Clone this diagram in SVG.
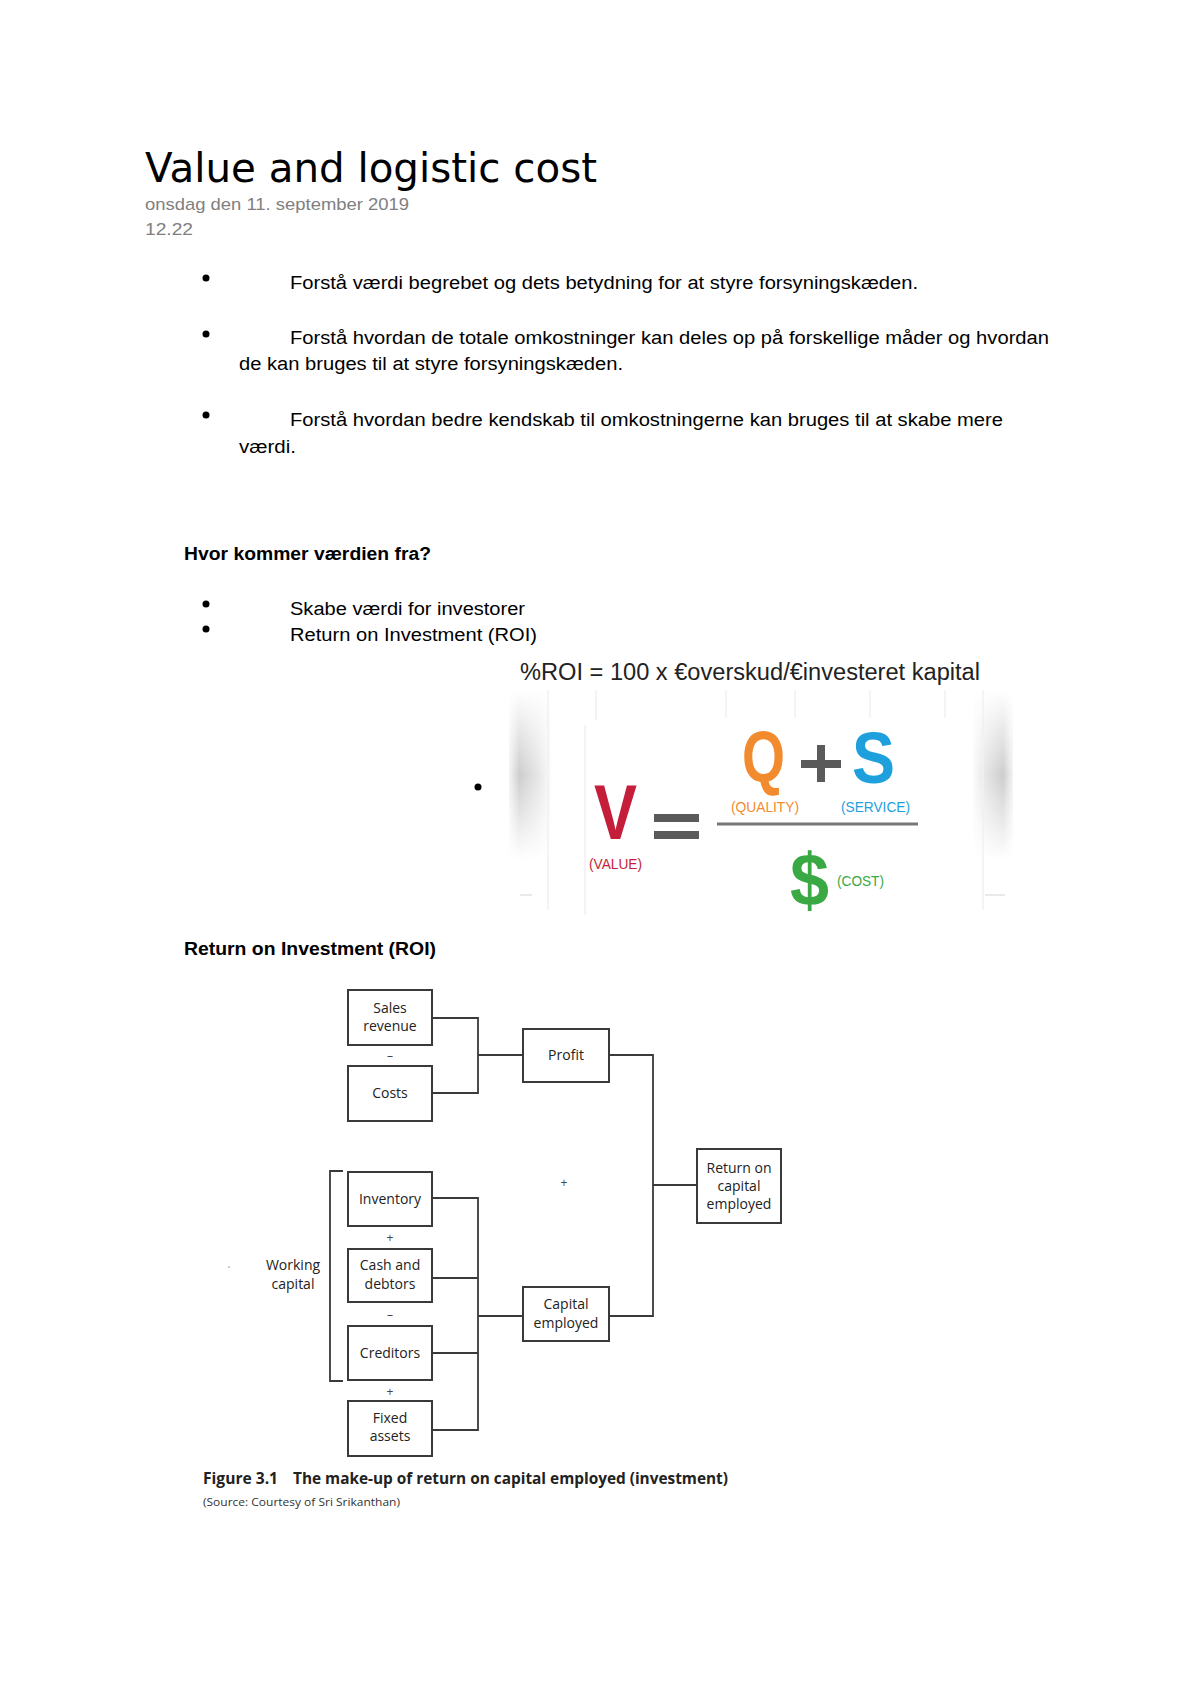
<svg xmlns="http://www.w3.org/2000/svg" width="1200" height="1698" viewBox="0 0 1200 1698">
<defs>
<style>
.title{font-family:"DejaVu Sans",sans-serif;font-size:40px;fill:#000}
.meta{font-family:"Liberation Sans",sans-serif;font-size:17px;fill:#808080}
.body{font-family:"Liberation Sans",sans-serif;font-size:18px;fill:#000}
.bold{font-family:"Liberation Sans",sans-serif;font-size:18px;font-weight:bold;fill:#000}
.roi{font-family:"Liberation Sans",sans-serif;font-size:23px;fill:#222}
.big{font-family:"Liberation Sans",sans-serif;font-weight:bold}
.lab{font-family:"Liberation Sans",sans-serif;font-size:14px}
.box{fill:#fff;stroke:#3a3a3a;stroke-width:2}
.bt{font-family:"Open Sans",sans-serif;font-size:14px;fill:#222;text-anchor:middle}
.op{font-family:"Open Sans",sans-serif;font-size:12px;fill:#444;text-anchor:middle}
.conn{fill:none;stroke:#3a3a3a;stroke-width:1.8}
.cap{font-family:"Open Sans",sans-serif;font-weight:bold;font-size:16px;fill:#222}
.src{font-family:"Open Sans",sans-serif;font-size:11px;fill:#333}
</style>
<linearGradient id="vfade" x1="0" y1="0" x2="0" y2="1">
<stop offset="0" stop-color="#fff" stop-opacity="0"/>
<stop offset="0.5" stop-color="#fff" stop-opacity="1"/>
<stop offset="1" stop-color="#fff" stop-opacity="0"/>
</linearGradient>
<linearGradient id="hL" x1="0" y1="0" x2="1" y2="0">
<stop offset="0" stop-color="#f4f4f4"/>
<stop offset="0.25" stop-color="#cdcdcd"/>
<stop offset="0.7" stop-color="#e6e6e6"/>
<stop offset="1" stop-color="#fbfbfb"/>
</linearGradient>
<linearGradient id="hR" x1="1" y1="0" x2="0" y2="0">
<stop offset="0" stop-color="#f4f4f4"/>
<stop offset="0.25" stop-color="#cdcdcd"/>
<stop offset="0.7" stop-color="#e6e6e6"/>
<stop offset="1" stop-color="#fbfbfb"/>
</linearGradient>
<mask id="vm" maskUnits="userSpaceOnUse" x="500" y="680" width="520" height="190">
<rect x="500" y="690" width="520" height="170" fill="url(#vfade)"/>
</mask>
</defs>
<rect width="1200" height="1698" fill="#fff"/>

<g id="header">
<text class="title" x="145" y="182" textLength="452" lengthAdjust="spacingAndGlyphs">Value and logistic cost</text>
<text class="meta" x="145" y="210" textLength="264" lengthAdjust="spacingAndGlyphs">onsdag den 11. september 2019</text>
<text class="meta" x="145" y="235" textLength="48" lengthAdjust="spacingAndGlyphs">12.22</text>
</g>

<g id="bullets1">
<circle cx="206" cy="278" r="3.5"/>
<text class="body" x="290" y="289" textLength="628" lengthAdjust="spacingAndGlyphs">Forstå værdi begrebet og dets betydning for at styre forsyningskæden.</text>
<circle cx="206" cy="334" r="3.5"/>
<text class="body" x="290" y="344" textLength="759" lengthAdjust="spacingAndGlyphs">Forstå hvordan de totale omkostninger kan deles op på forskellige måder og hvordan</text>
<text class="body" x="239" y="370" textLength="384" lengthAdjust="spacingAndGlyphs">de kan bruges til at styre forsyningskæden.</text>
<circle cx="206" cy="415" r="3.5"/>
<text class="body" x="290" y="426" textLength="713" lengthAdjust="spacingAndGlyphs">Forstå hvordan bedre kendskab til omkostningerne kan bruges til at skabe mere</text>
<text class="body" x="239" y="453" textLength="57" lengthAdjust="spacingAndGlyphs">værdi.</text>
</g>

<g id="section2">
<text class="bold" x="184" y="560" textLength="247" lengthAdjust="spacingAndGlyphs">Hvor kommer værdien fra?</text>
<circle cx="206" cy="604" r="3.5"/>
<text class="body" x="290" y="615" textLength="235" lengthAdjust="spacingAndGlyphs">Skabe værdi for investorer</text>
<circle cx="206" cy="629" r="3.5"/>
<text class="body" x="290" y="641" textLength="247" lengthAdjust="spacingAndGlyphs">Return on Investment (ROI)</text>
<circle cx="478" cy="787" r="3.5"/>
</g>

<g id="formula-image">
<g mask="url(#vm)">
<rect x="509" y="690" width="42" height="170" fill="url(#hL)"/>
<rect x="973" y="690" width="40" height="170" fill="url(#hR)"/>
</g>
<g stroke="#f1f1f1" stroke-width="1.5">
<line x1="548" y1="690" x2="548" y2="910"/>
<line x1="596" y1="690" x2="596" y2="720"/>
<line x1="726" y1="690" x2="726" y2="718"/>
<line x1="795" y1="690" x2="795" y2="718"/>
<line x1="870" y1="690" x2="870" y2="718"/>
<line x1="945" y1="690" x2="945" y2="718"/>
<line x1="983" y1="690" x2="983" y2="910"/>
<line x1="585" y1="725" x2="585" y2="915"/>
<line x1="520" y1="895" x2="532" y2="895" stroke="#e2e2e2"/>
<line x1="985" y1="895" x2="1005" y2="895" stroke="#e2e2e2"/>
</g>
<text class="roi" x="520" y="680" textLength="460" lengthAdjust="spacingAndGlyphs">%ROI = 100 x €overskud/€investeret kapital</text>
<text class="big" x="594" y="839" font-size="78" fill="#c41e3a" textLength="43" lengthAdjust="spacingAndGlyphs">V</text>
<text class="lab" x="589" y="869" fill="#c41e3a" textLength="53" lengthAdjust="spacingAndGlyphs">(VALUE)</text>
<rect x="654" y="814" width="45" height="8" fill="#5a5a5a"/>
<rect x="654" y="831" width="45" height="8" fill="#5a5a5a"/>
<text class="big" x="742" y="782" font-size="72" fill="#f28a2e" textLength="43" lengthAdjust="spacingAndGlyphs">Q</text>
<rect x="801" y="760" width="40" height="8" fill="#5a5a5a"/>
<rect x="817" y="745" width="8" height="37" fill="#5a5a5a"/>
<text class="big" x="852" y="783" font-size="72" fill="#1ea0dc" textLength="43" lengthAdjust="spacingAndGlyphs">S</text>
<text class="lab" x="731" y="812" fill="#f28a2e" textLength="68" lengthAdjust="spacingAndGlyphs">(QUALITY)</text>
<text class="lab" x="841" y="812" fill="#1ea0dc" textLength="69" lengthAdjust="spacingAndGlyphs">(SERVICE)</text>
<line x1="717" y1="824" x2="918" y2="824" stroke="#777" stroke-width="3"/>
<text class="big" x="790" y="905" font-size="74" fill="#3aa843" textLength="39" lengthAdjust="spacingAndGlyphs">$</text>
<text class="lab" x="837" y="886" fill="#3aa843" textLength="47" lengthAdjust="spacingAndGlyphs">(COST)</text>
</g>

<text class="bold" x="184" y="955" textLength="252" lengthAdjust="spacingAndGlyphs">Return on Investment (ROI)</text>

<g id="connectors">
<path class="conn" d="M432,1018 H478 V1093 H432 M478,1055 H523"/>
<path class="conn" d="M609,1055 H653 V1316 H609 M653,1185 H697"/>
<path class="conn" d="M432,1198 H478 V1430 H432 M432,1278 H478 M432,1353 H478 M478,1316 H523"/>
<path class="conn" d="M343,1171 H330 V1381 H343"/>
</g>

<g id="sales-revenue"><rect class="box" x="348" y="990" width="84" height="55"/><text class="bt" x="390" y="1013">Sales</text><text class="bt" x="390" y="1031">revenue</text></g>
<text class="op" x="390" y="1060">–</text>
<g id="costs"><rect class="box" x="348" y="1066" width="84" height="55"/><text class="bt" x="390" y="1098">Costs</text></g>
<g id="profit"><rect class="box" x="523" y="1029" width="86" height="53"/><text class="bt" x="566" y="1060">Profit</text></g>
<g id="return"><rect class="box" x="697" y="1149" width="84" height="74"/><text class="bt" x="739" y="1173">Return on</text><text class="bt" x="739" y="1191">capital</text><text class="bt" x="739" y="1209">employed</text></g>
<text class="op" x="564" y="1187">+</text>
<g id="inventory"><rect class="box" x="348" y="1172" width="84" height="54"/><text class="bt" x="390" y="1204">Inventory</text></g>
<text class="op" x="390" y="1242">+</text>
<g id="cash"><rect class="box" x="348" y="1249" width="84" height="53"/><text class="bt" x="390" y="1270">Cash and</text><text class="bt" x="390" y="1289">debtors</text></g>
<text class="op" x="390" y="1319">–</text>
<g id="creditors"><rect class="box" x="348" y="1326" width="84" height="54"/><text class="bt" x="390" y="1358">Creditors</text></g>
<text class="op" x="390" y="1396">+</text>
<g id="fixed"><rect class="box" x="348" y="1401" width="84" height="55"/><text class="bt" x="390" y="1423">Fixed</text><text class="bt" x="390" y="1441">assets</text></g>
<g id="capital-employed"><rect class="box" x="523" y="1287" width="86" height="54"/><text class="bt" x="566" y="1309">Capital</text><text class="bt" x="566" y="1328">employed</text></g>
<g id="working-capital"><text class="bt" x="293" y="1270">Working</text><text class="bt" x="293" y="1289">capital</text></g>
<circle cx="229" cy="1267" r="1" fill="#bbb"/>

<g id="caption">
<text class="cap" x="203" y="1484" textLength="75" lengthAdjust="spacingAndGlyphs">Figure 3.1</text>
<text class="cap" x="293" y="1484" textLength="435" lengthAdjust="spacingAndGlyphs">The make-up of return on capital employed (investment)</text>
<text class="src" x="203" y="1506" textLength="197" lengthAdjust="spacingAndGlyphs">(Source: Courtesy of Sri Srikanthan)</text>
</g>
</svg>
